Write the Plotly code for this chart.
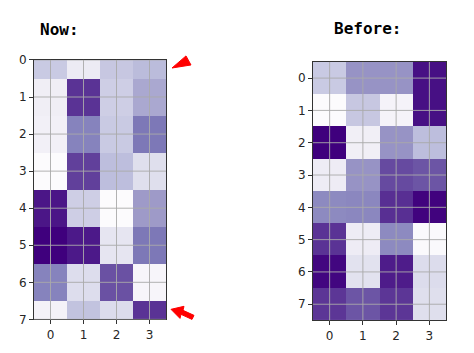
import plotly.graph_objects as go

W, H = 474, 353

cols = [0, 1, 2, 3]
rows = [0, 1, 2, 3, 4, 5, 6, 7]

now_vals = [
    [0.32, 0.14, 0.33, 0.38],
    [0.12, 0.84, 0.30, 0.45],
    [0.10, 0.60, 0.32, 0.64],
    [0.00, 0.80, 0.37, 0.22],
    [0.93, 0.30, 0.00, 0.50],
    [1.00, 0.92, 0.18, 0.64],
    [0.60, 0.23, 0.75, 0.05],
    [0.08, 0.35, 0.24, 0.84],
]

before_vals = [
    [0.32, 0.53, 0.53, 0.95],
    [0.00, 0.33, 0.07, 0.95],
    [1.00, 0.11, 0.53, 0.37],
    [0.13, 0.53, 0.77, 0.74],
    [0.57, 0.58, 0.85, 0.99],
    [0.84, 0.13, 0.57, 0.02],
    [0.98, 0.20, 0.91, 0.24],
    [0.83, 0.74, 0.83, 0.22],
]

titles = ["Now:", "Before:"]

# empirical vertical correction of the rendered page
YS, YO = 0.955, 7.35


def px(x, y):
    yy = (y - YO) / YS
    return x / W, 1 - yy / H


fig = go.Figure()
fig.add_trace(go.Heatmap(z=now_vals, x=cols, y=rows, colorscale="Purples",
                         zmin=0, zmax=1, showscale=False, xaxis="x", yaxis="y",
                         hoverinfo="skip"))
fig.add_trace(go.Heatmap(z=before_vals, x=cols, y=rows, colorscale="Purples",
                         zmin=0, zmax=1, showscale=False, xaxis="x2", yaxis="y2",
                         hoverinfo="skip"))

axis_common = dict(
    showline=True, mirror=True, linecolor="#333333", linewidth=1,
    ticks="outside", ticklen=4, tickcolor="#333333", tickwidth=1,
    showgrid=False, zeroline=False, tickmode="array",
    tickfont=dict(family="DejaVu Sans", size=12, color="#262626"),
    layer="above traces", fixedrange=True,
)

l_x0, _ = px(34, 0)
l_x1, _ = px(166, 0)
_, l_y1 = px(0, 60)
_, l_y0 = px(0, 318)
r_x0, _ = px(313, 0)
r_x1, _ = px(446, 0)
_, r_y1 = px(0, 62)
_, r_y0 = px(0, 319)

fig.update_layout(
    width=W, height=H,
    margin=dict(l=0, r=0, t=0, b=0),
    paper_bgcolor="white", plot_bgcolor="white",
    xaxis=dict(domain=[l_x0, l_x1], range=[-0.5, 3.5], anchor="y",
               tickvals=cols, ticktext=[str(c) for c in cols], **axis_common),
    yaxis=dict(domain=[l_y0, l_y1], range=[7, 0], anchor="x",
               tickvals=rows, ticktext=[str(r) for r in rows], **axis_common),
    xaxis2=dict(domain=[r_x0, r_x1], range=[-0.5, 3.5], anchor="y2",
                tickvals=cols, ticktext=[str(c) for c in cols], **axis_common),
    yaxis2=dict(domain=[r_y0, r_y1], range=[7.5, -0.5], anchor="x2",
                tickvals=rows, ticktext=[str(r) for r in rows], **axis_common),
    showlegend=False,
)

# grid lines drawn above the cells (matplotlib style grid over imshow)
grid_line = dict(color="rgba(170,170,170,0.9)", width=1)
for xa, ya in (("x", "y"), ("x2", "y2")):
    for c in cols:
        fig.add_shape(type="line", xref=xa, yref=ya + " domain", x0=c, x1=c,
                      y0=0, y1=1, line=grid_line, layer="above")
    for r in rows:
        fig.add_shape(type="line", xref=xa + " domain", yref=ya, x0=0, x1=1,
                      y0=r, y1=r, line=grid_line, layer="above")

# titles
for t, (cx, cy) in zip(titles, [(59, 30), (367, 29)]):
    ax_, ay_ = px(cx, cy)
    fig.add_annotation(text="<b>%s</b>" % t, x=ax_, y=ay_, xref="paper", yref="paper",
                       showarrow=False, xanchor="center", yanchor="middle",
                       font=dict(family="DejaVu Sans Mono", size=16, color="black"))


def path(points):
    parts = []
    for i, (x, y) in enumerate(points):
        X, Y = px(x, y)
        parts.append(("M" if i == 0 else "L") + " %.5f %.5f" % (X, Y))
    return " ".join(parts) + " Z"


arrow1 = [(172, 68), (186, 56), (191, 65)]
arrow2 = [(171, 308), (184, 305), (183, 309), (194, 314), (192, 318), (181, 313), (180, 317)]
for pts in (arrow1, arrow2):
    fig.add_shape(type="path", path=path(pts), xref="paper", yref="paper",
                  fillcolor="#ff0000", line=dict(color="#ff0000", width=1))

fig.write_html("out.html")
